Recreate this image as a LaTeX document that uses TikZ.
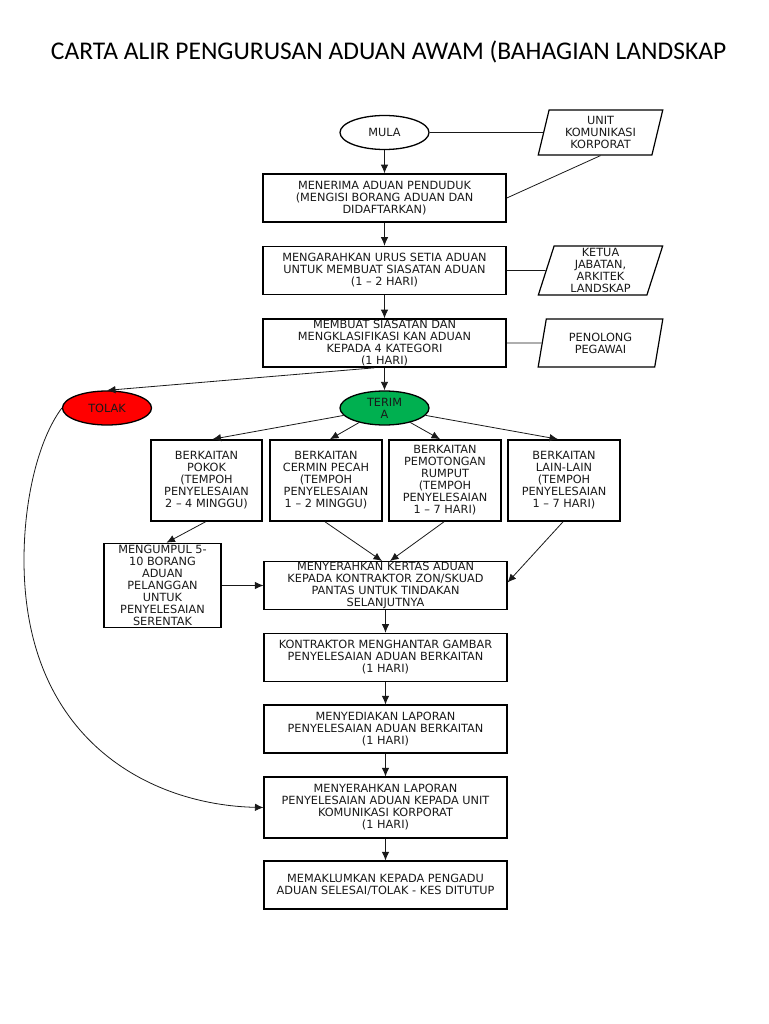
\documentclass[tikz,border=0pt]{standalone}
\usepackage{fontspec}
\setmainfont{DejaVu Sans}
\newfontfamily\titlefont{Carlito}
\usetikzlibrary{arrows.meta, shapes.geometric, positioning}
\definecolor{tolakred}{RGB}{255,0,0}
\definecolor{terimagreen}{RGB}{0,176,80}

\tikzset{
  >={Latex[length=8.5pt,width=7.5pt]},
  txt/.style={font=\fontsize{11.3}{12}\selectfont, align=center, text=black!90},
  box/.style={txt, draw, rectangle, line width=1.6pt, minimum width=243pt, minimum height=48pt, inner sep=0pt},
  thinbox/.style={box, line width=1.1pt},
  catbox/.style={box, minimum width=112pt, minimum height=81pt},
  oval/.style={txt, draw, ellipse, line width=1.3pt, minimum width=89pt, minimum height=34pt, inner sep=0pt},
  iobox/.style={txt, draw, trapezium, trapezium left angle=77, trapezium right angle=103, trapezium stretches=true, line width=1.2pt, minimum width=125pt, minimum height=45pt, inner sep=0pt},
  link/.style={line width=0.8pt, draw=black!90},
  arr/.style={link, ->},
}

\begin{document}
\begin{tikzpicture}[x=1pt, y=1pt]
    \useasboundingbox (0,0) rectangle (768,-1024);

    % title %
      \node[font=\titlefont\fontsize{25.5}{30}\selectfont] (judul) at (388.5,-52) {CARTA ALIR PENGURUSAN ADUAN AWAM (BAHAGIAN LANDSKAP};

    % nodes %
      \node[oval] (mula) at (384.5,-132.5) {MULA};
      \node[box, below of = mula, node distance=65.5pt] (menerima) {MENERIMA ADUAN PENDUDUK\\(MENGISI BORANG ADUAN DAN\\DIDAFTARKAN)};
      \node[box, below of = menerima, node distance=72.5pt] (mengarah) {MENGARAHKAN URUS SETIA ADUAN\\UNTUK MEMBUAT SIASATAN ADUAN\\(1 – 2 HARI)};
      \node[box, below of = mengarah, node distance=72.5pt] (siasat) {MEMBUAT SIASATAN DAN\\MENGKLASIFIKASI KAN ADUAN\\KEPADA 4 KATEGORI\\(1 HARI)};
      \node[oval, fill=terimagreen, below of = siasat, node distance=65pt] (terima) {TERIM\\A};
      \node[oval, fill=tolakred, left of = terima, node distance=277.5pt] (tolak) {TOLAK};

      \node[iobox, right of = mula, node distance=216pt] (unit) {UNIT\\KOMUNIKASI\\KORPORAT};
      \node[iobox, minimum height=49pt, right of = mengarah, node distance=216pt] (ketua) {KETUA\\JABATAN,\\ARKITEK\\LANDSKAP};
      \node[iobox, minimum height=48pt, right of = siasat, node distance=216pt] (penolong) {PENOLONG\\PEGAWAI};

      \node[catbox, minimum width=111pt] (pokok) at (206.5,-480.5) {BERKAITAN\\POKOK\\(TEMPOH\\PENYELESAIAN\\2 – 4 MINGGU)};
      \node[catbox] (cermin) at (326,-480.5) {BERKAITAN\\CERMIN PECAH\\(TEMPOH\\PENYELESAIAN\\1 – 2 MINGGU)};
      \node[catbox] (rumput) at (445,-480.5) {BERKAITAN\\PEMOTONGAN\\RUMPUT\\(TEMPOH\\PENYELESAIAN\\1 – 7 HARI)};
      \node[catbox] (lain) at (564,-480.5) {BERKAITAN\\LAIN-LAIN\\(TEMPOH\\PENYELESAIAN\\1 – 7 HARI)};

      \node[thinbox] (kertas) at (385.5,-585.5) {MENYERAHKAN KERTAS ADUAN\\KEPADA KONTRAKTOR ZON/SKUAD\\PANTAS UNTUK TINDAKAN\\SELANJUTNYA};
      \node[box, minimum width=117pt, minimum height=84pt, left of = kertas, node distance=223pt] (kumpul) {MENGUMPUL 5-\\10 BORANG\\ADUAN\\PELANGGAN\\UNTUK\\PENYELESAIAN\\SERENTAK};
      \node[box, below of = kertas, node distance=72pt] (gambar) {KONTRAKTOR MENGHANTAR GAMBAR\\PENYELESAIAN ADUAN BERKAITAN\\(1 HARI)};
      \node[thinbox, below of = gambar, node distance=71.5pt] (sedia) {MENYEDIAKAN LAPORAN\\PENYELESAIAN ADUAN BERKAITAN\\(1 HARI)};
      \node[thinbox, minimum height=61pt, below of = sedia, node distance=78.5pt] (laporan) {MENYERAHKAN LAPORAN\\PENYELESAIAN ADUAN KEPADA UNIT\\KOMUNIKASI KORPORAT\\(1 HARI)};
      \node[thinbox, below of = laporan, node distance=77.5pt] (maklum) {MEMAKLUMKAN KEPADA PENGADU\\ADUAN SELESAI/TOLAK - KES DITUTUP};

    % edges %
      \draw[arr] (mula) -- (menerima);
      \draw[link] (mula) -- (unit.west);
      \draw[link] (unit.south) -- (menerima.east);
      \draw[arr] (menerima) -- (mengarah);
      \draw[link] (mengarah.east) -- (ketua.west);
      \draw[arr] (mengarah) -- (siasat);
      \draw[link] (siasat.east) -- (penolong.west);
      \draw[arr] (siasat) -- (terima);
      \draw[arr] ([xshift=-10pt]siasat.south) -- (tolak.north);

      \draw[arr] (terima) -- ([xshift=6pt]pokok.north);
      \draw[arr] (terima) -- ([xshift=4pt]cermin.north);
      \draw[arr] (terima) -- ([xshift=-5pt]rumput.north);
      \draw[arr] (terima) -- ([xshift=-6pt]lain.north);

      \draw[arr] ([xshift=-1pt]pokok.south) -- ([xshift=4pt]kumpul.north);
      \draw[arr] ([xshift=-1pt]cermin.south) -- ([xshift=-3.5pt]kertas.north);
      \draw[arr] ([xshift=-1pt]rumput.south) -- ([xshift=4.5pt]kertas.north);
      \draw[arr] ([xshift=-1pt]lain.south) -- ([yshift=3pt]kertas.east);
      \draw[arr] (kumpul) -- (kertas);

      \draw[arr] (kertas) -- (gambar);
      \draw[arr] (gambar) -- (sedia);
      \draw[arr] (sedia) -- (laporan);
      \draw[arr] (laporan) -- (maklum);

      % rejected complaints go straight to the report %
      \draw[arr] (tolak.west) .. controls (38,-440) and (24,-500) .. (24,-560)
                 .. controls (24,-740) and (150,-805) .. (laporan.west);
\end{tikzpicture}
\end{document}
